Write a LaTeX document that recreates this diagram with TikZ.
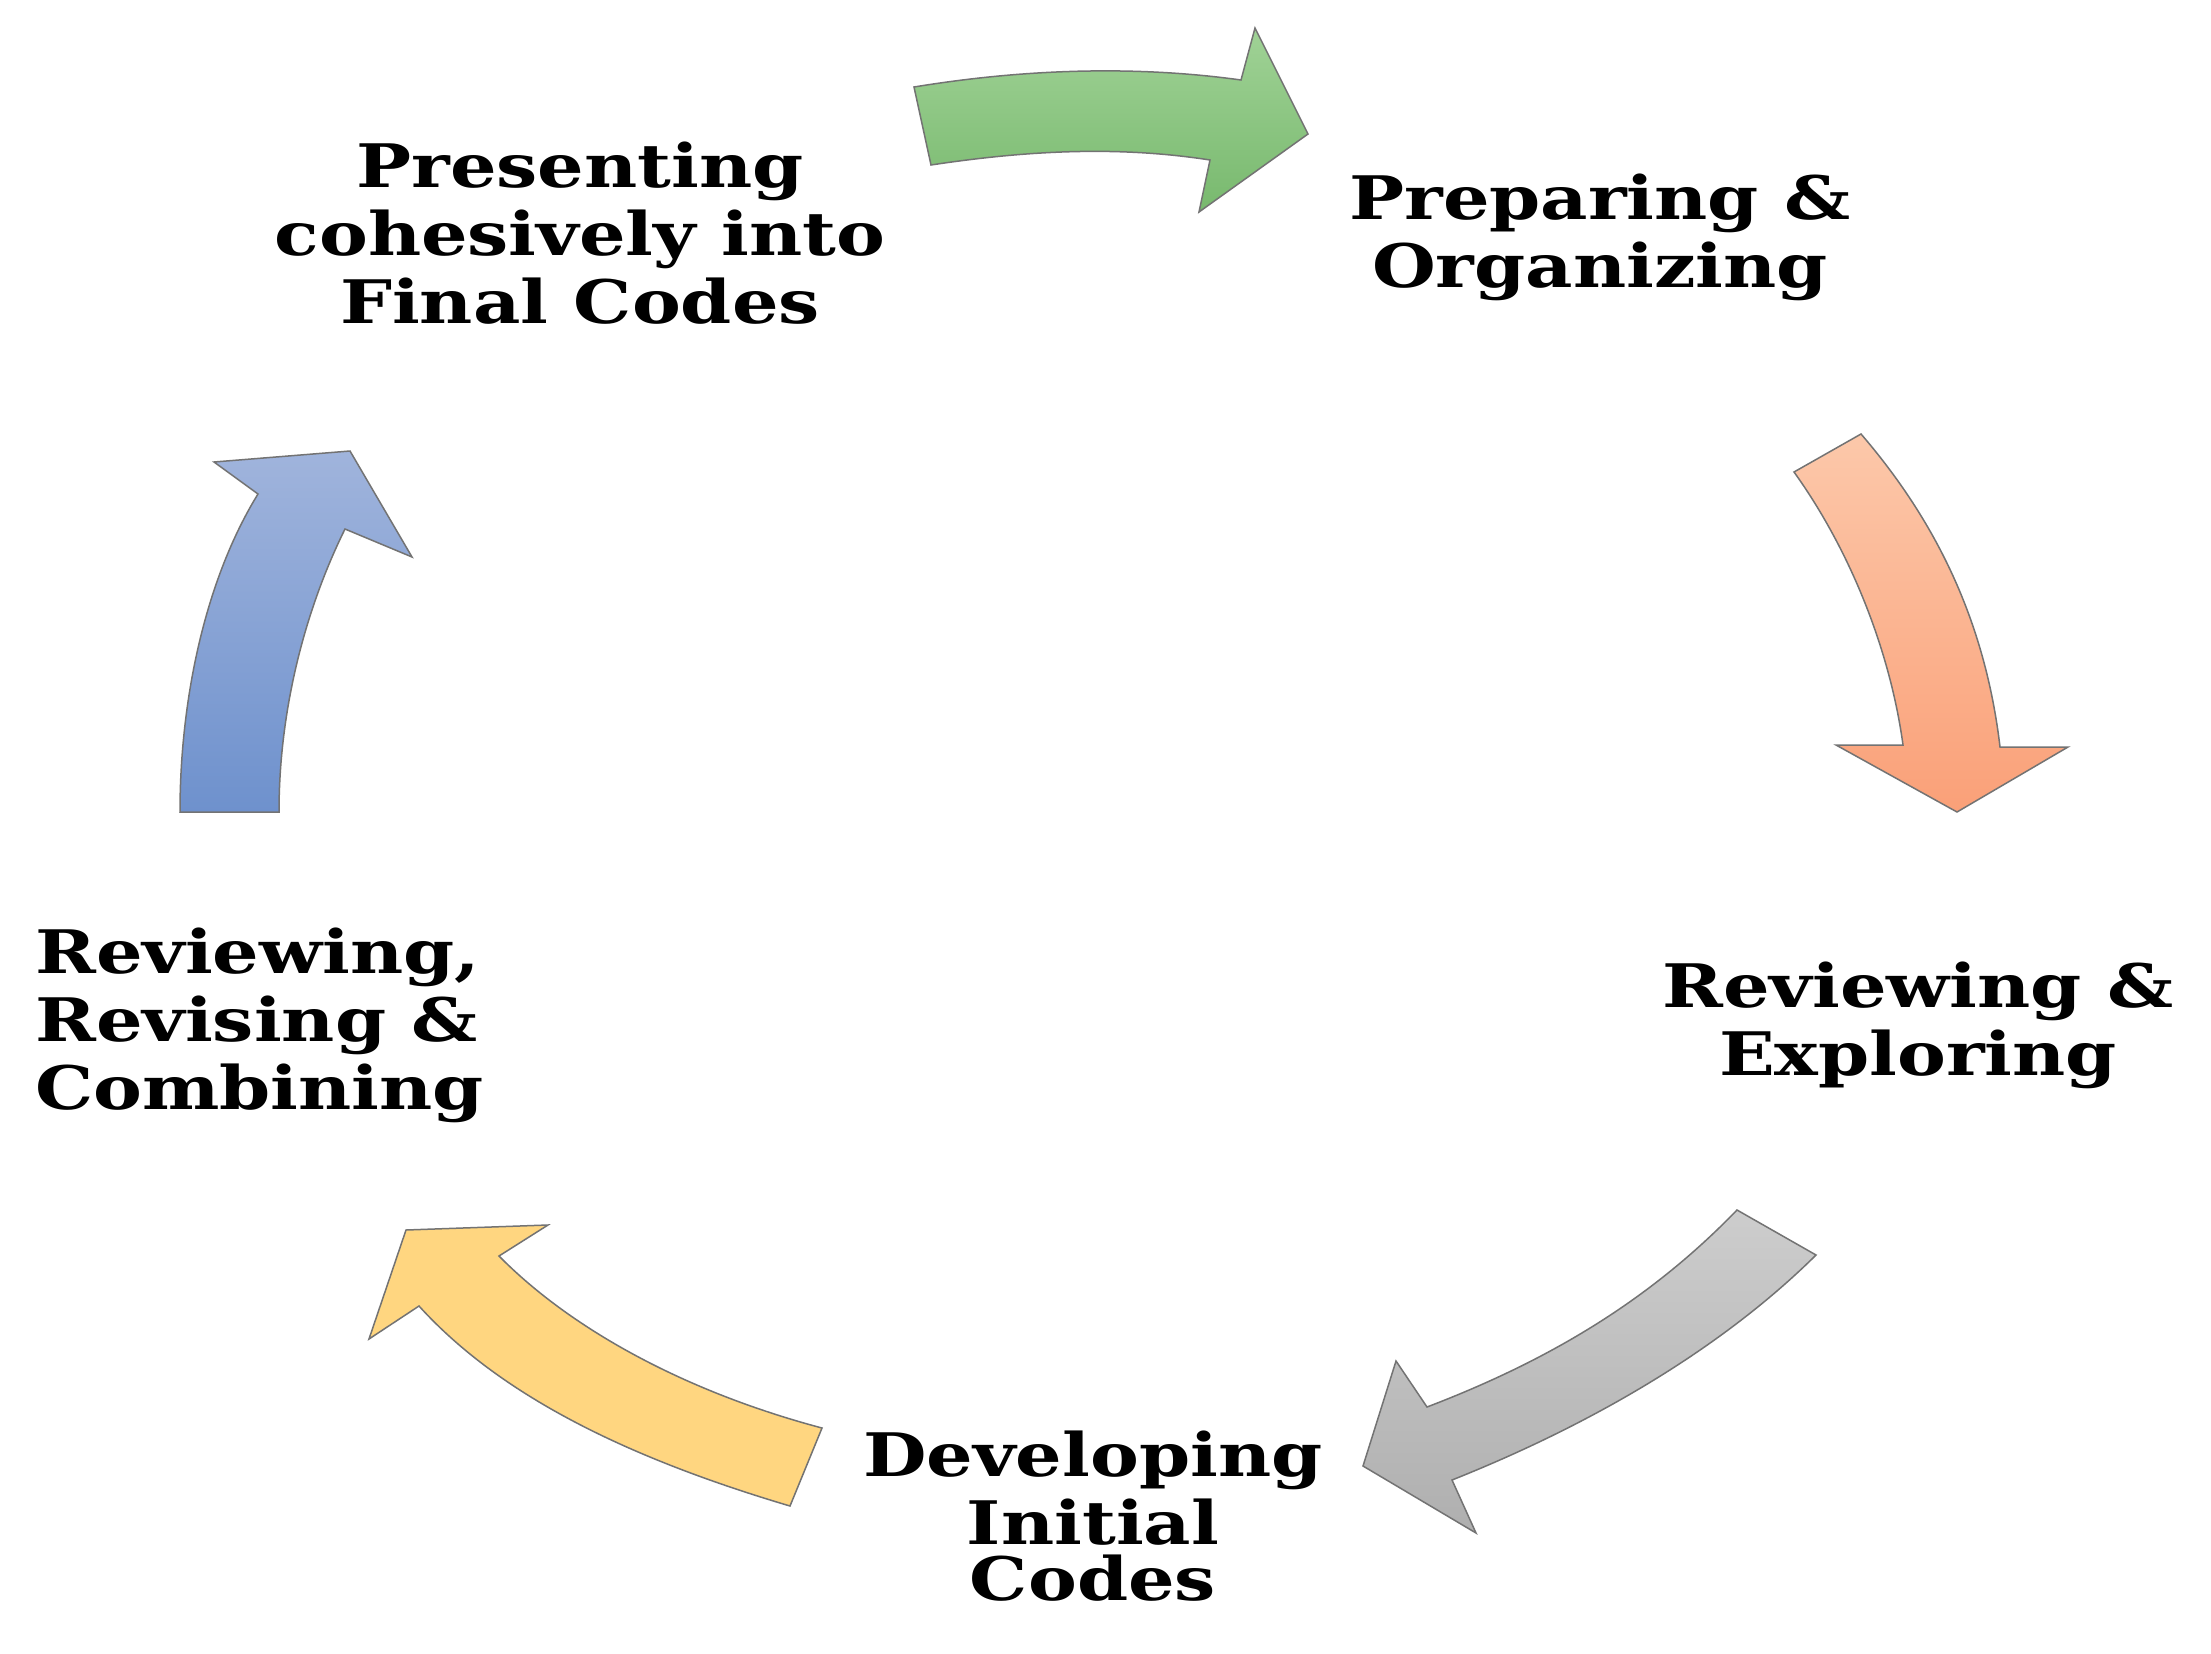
\documentclass[tikz,border=0pt]{standalone}
\usepackage{fontspec}
\setmainfont{DejaVu Serif}
\begin{document}
\begin{tikzpicture}[x=1pt,y=-1pt,
  arr/.style={draw=black!55,line width=1.5pt},
  lbl/.style={font=\bfseries\fontsize{60}{80}\selectfont,align=center,inner sep=0pt}]
\useasboundingbox (0,0) rectangle (2211,1654);
\fill[white] (0,0) rectangle (2211,1654);
% green
\path[arr,top color={rgb,255:red,160;green,210;blue,150},bottom color={rgb,255:red,120;green,185;blue,110}]
 (914,87) .. controls (1030,68) and (1140,66) .. (1241,80) -- (1255,28) -- (1308,134) -- (1199,212) -- (1210,160) .. controls (1120,146) and (1030,150) .. (931,165) -- cycle;
% orange
\path[arr,top color={rgb,255:red,252;green,200;blue,170},bottom color={rgb,255:red,250;green,160;blue,120}]
 (1794,472) .. controls (1850,550) and (1890,650) .. (1903,745) -- (1836,745) -- (1957,812) -- (2068,747) -- (2000,747) .. controls (1985,620) and (1935,520) .. (1861,434) -- cycle;
% gray
\path[arr,top color={rgb,255:red,205;green,205;blue,205},bottom color={rgb,255:red,175;green,175;blue,175}]
 (1737,1210) .. controls (1650,1300) and (1550,1360) .. (1427,1407) -- (1396,1361) -- (1363,1466) -- (1476,1533) -- (1452,1480) .. controls (1590,1425) and (1720,1350) .. (1816,1255) -- cycle;
% yellow
\path[arr,fill={rgb,255:red,255;green,214;blue,128}]
 (822,1428) .. controls (690,1393) and (574,1332) .. (499,1256) -- (548,1225) -- (406,1230) -- (369,1339) -- (419,1306) .. controls (506,1402) and (642,1462) .. (790,1506) -- cycle;
% blue
\path[arr,top color={rgb,255:red,160;green,180;blue,220},bottom color={rgb,255:red,110;green,145;blue,205}]
 (180,812) .. controls (180,700) and (205,580) .. (258,494) -- (214,462) -- (350,451) -- (412,557) -- (345,529) .. controls (305,610) and (279,710) .. (279,812) -- cycle;
\node[lbl] (pres) at (580,233) {\scalebox{1.22}[1]{\shortstack{Presenting\\[6pt]cohesively into\\[6pt]Final Codes}}};
\node[lbl] (prep) at (1600,237) {\scalebox{1.22}[1]{\shortstack{Preparing \&\\[6pt]Organizing}}};
\node[lbl] (rexp) at (1918,1025) {\scalebox{1.22}[1]{\shortstack{Reviewing \&\\[6pt]Exploring}}};
\node[lbl] (dev) at (1093,1516) {\scalebox{1.22}[1]{\shortstack{Developing\\[6pt]Initial\\[6pt]Codes}}};
\node[lbl,anchor=west] (rrc) at (35,1025) {\scalebox{1.22}[1]{\shortstack[l]{Reviewing,\\[6pt]Revising \&\\[6pt]Combining}}};
\end{tikzpicture}
\end{document}
